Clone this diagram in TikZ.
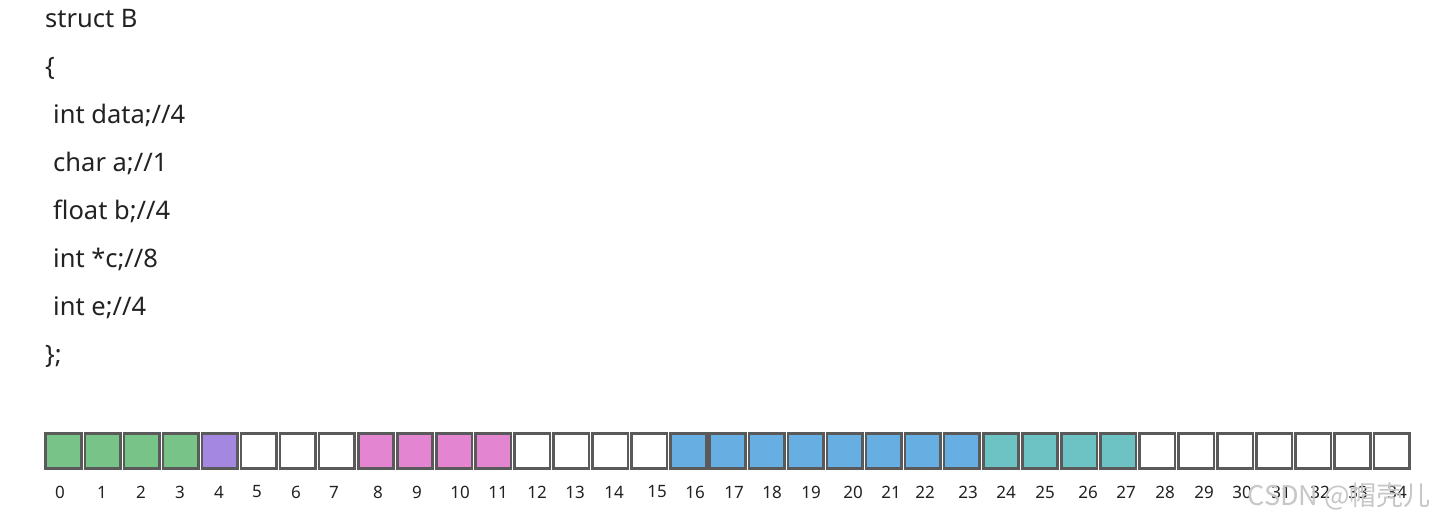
\documentclass[tikz,border=0pt]{standalone}
\usepackage{fontspec}
\setmainfont{Noto Sans}
\newfontfamily\cjkfont{Noto Sans CJK SC}
\usepackage{tikz}

\definecolor{cellgreen}{RGB}{120,195,135}
\definecolor{cellpurple}{RGB}{163,135,224}
\definecolor{cellpink}{RGB}{228,133,210}
\definecolor{cellblue}{RGB}{103,174,226}
\definecolor{cellteal}{RGB}{109,195,196}
\definecolor{cellborder}{RGB}{90,90,90}
\definecolor{codetext}{RGB}{34,34,34}

\begin{document}
\begin{tikzpicture}[x=1pt,y=-1pt,
    codeline/.style = {anchor=base west,inner sep=0pt,text=codetext,font=\fontsize{25.5}{30}\selectfont},
    cell/.style = {draw=cellborder,line width=2.6pt,minimum width=35.5pt,minimum height=35.5pt,inner sep=0pt},
    idx/.style = {inner sep=0pt,text=codetext,font=\fontsize{17}{20}\selectfont}]
    \useasboundingbox (0,0) rectangle (1435,531);

    % struct source
    \node[codeline](l0) at (45,27) {struct B};
    \node[codeline](l1) at (45,75) {\{};
    \node[codeline](l2) at (53,123) {int data;//4};
    \node[codeline](l3) at (53,171) {char a;//1};
    \node[codeline](l4) at (53,219) {float b;//4};
    \node[codeline](l5) at (53,267) {int *c;//8};
    \node[codeline](l6) at (53,315) {int e;//4};
    \node[codeline](l7) at (45,363) {\};};

    % memory cells
    \foreach \i/\c in {0/cellgreen,1/cellgreen,2/cellgreen,3/cellgreen,4/cellpurple,5/white,6/white,7/white,
                       8/cellpink,9/cellpink,10/cellpink,11/cellpink,12/white,13/white,14/white,15/white,
                       16/cellblue,17/cellblue,18/cellblue,19/cellblue,20/cellblue,21/cellblue,22/cellblue,23/cellblue,
                       24/cellteal,25/cellteal,26/cellteal,27/cellteal,
                       28/white,29/white,30/white,31/white,32/white,33/white,34/white}
        \node[cell,fill=\c](c\i) at ({63.5+39.06*\i},451) {};

    % byte offsets
    \foreach \i/\x in {0/60,1/102,2/141,3/180,4/219,5/257,6/296,7/334,8/378,9/417,10/460,11/498,
                       12/537,13/575,14/614,15/657,16/695,17/734,18/772,19/811,20/853,21/891,22/925,
                       23/968,24/1006,25/1045,26/1088,27/1126,28/1165,29/1204,30/1242,31/1281,
                       32/1320,33/1358,34/1397}
        \node[idx](n\i) at (\x,492) {\i};

    \node[anchor=east,inner sep=0pt,text=black!22,font=\cjkfont\fontsize{27}{30}\selectfont](mark) at (1431,496) {CSDN @帽壳儿};
\end{tikzpicture}
\end{document}
